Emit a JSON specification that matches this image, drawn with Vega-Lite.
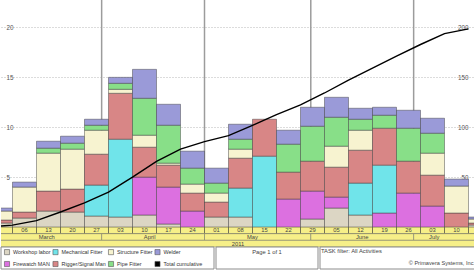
{
  "$schema": "https://vega.github.io/schema/vega-lite/v6.json",
  "padding": 0,
  "spacing": 0,
  "bounds": "flush",
  "background": "white",
  "config": {
    "view": {"stroke": null},
    "font": "Liberation Sans",
    "concat": {"spacing": 0}
  },
  "datasets": {
    "weekly": [
      {"start": "2011-02-27", "end": "2011-03-06", "Workshop labor": 0.4, "Firewatch MAN": 0, "Mechanical Fitter": 0, "Rigger/Signal Man": 0.3, "Structure Fitter": 0.9, "Pipe Fitter": 0, "Welder": 0.3},
      {"start": "2011-03-06", "end": "2011-03-13", "Workshop labor": 0.9, "Firewatch MAN": 0, "Mechanical Fitter": 0, "Rigger/Signal Man": 0.6, "Structure Fitter": 2.5, "Pipe Fitter": 0, "Welder": 0.5},
      {"start": "2011-03-13", "end": "2011-03-20", "Workshop labor": 1.6, "Firewatch MAN": 0, "Mechanical Fitter": 0, "Rigger/Signal Man": 2.0, "Structure Fitter": 3.8, "Pipe Fitter": 0.5, "Welder": 0.7},
      {"start": "2011-03-20", "end": "2011-03-27", "Workshop labor": 1.5, "Firewatch MAN": 0, "Mechanical Fitter": 0, "Rigger/Signal Man": 2.3, "Structure Fitter": 4.0, "Pipe Fitter": 0.6, "Welder": 0.7},
      {"start": "2011-03-27", "end": "2011-04-03", "Workshop labor": 1.1, "Firewatch MAN": 0, "Mechanical Fitter": 3.1, "Rigger/Signal Man": 3.1, "Structure Fitter": 2.4, "Pipe Fitter": 0.5, "Welder": 0.6},
      {"start": "2011-04-03", "end": "2011-04-10", "Workshop labor": 1.0, "Firewatch MAN": 0, "Mechanical Fitter": 7.8, "Rigger/Signal Man": 4.6, "Structure Fitter": 0.4, "Pipe Fitter": 0.6, "Welder": 0.6},
      {"start": "2011-04-10", "end": "2011-04-17", "Workshop labor": 1.2, "Firewatch MAN": 3.8, "Mechanical Fitter": 0, "Rigger/Signal Man": 3.0, "Structure Fitter": 1.2, "Pipe Fitter": 3.7, "Welder": 2.9},
      {"start": "2011-04-17", "end": "2011-04-24", "Workshop labor": 0.3, "Firewatch MAN": 3.7, "Mechanical Fitter": 0, "Rigger/Signal Man": 2.2, "Structure Fitter": 0.2, "Pipe Fitter": 3.8, "Welder": 2.1},
      {"start": "2011-04-24", "end": "2011-05-01", "Workshop labor": 0, "Firewatch MAN": 1.6, "Mechanical Fitter": 0, "Rigger/Signal Man": 1.8, "Structure Fitter": 0.9, "Pipe Fitter": 1.6, "Welder": 1.7},
      {"start": "2011-05-01", "end": "2011-05-08", "Workshop labor": 1.0, "Firewatch MAN": 0, "Mechanical Fitter": 0, "Rigger/Signal Man": 1.5, "Structure Fitter": 0.9, "Pipe Fitter": 1.0, "Welder": 1.5},
      {"start": "2011-05-08", "end": "2011-05-15", "Workshop labor": 1.0, "Firewatch MAN": 0, "Mechanical Fitter": 2.9, "Rigger/Signal Man": 3.0, "Structure Fitter": 0.9, "Pipe Fitter": 1.0, "Welder": 1.5},
      {"start": "2011-05-15", "end": "2011-05-22", "Workshop labor": 0, "Firewatch MAN": 0, "Mechanical Fitter": 7.1, "Rigger/Signal Man": 3.7, "Structure Fitter": 0, "Pipe Fitter": 0, "Welder": 0},
      {"start": "2011-05-22", "end": "2011-05-29", "Workshop labor": 0, "Firewatch MAN": 2.8, "Mechanical Fitter": 0, "Rigger/Signal Man": 2.7, "Structure Fitter": 0, "Pipe Fitter": 2.8, "Welder": 1.4},
      {"start": "2011-05-29", "end": "2011-06-05", "Workshop labor": 0.8, "Firewatch MAN": 2.8, "Mechanical Fitter": 0, "Rigger/Signal Man": 3.0, "Structure Fitter": 0, "Pipe Fitter": 3.5, "Welder": 1.9},
      {"start": "2011-06-05", "end": "2011-06-12", "Workshop labor": 1.9, "Firewatch MAN": 1.1, "Mechanical Fitter": 0, "Rigger/Signal Man": 3.0, "Structure Fitter": 2.1, "Pipe Fitter": 2.9, "Welder": 2.0},
      {"start": "2011-06-12", "end": "2011-06-19", "Workshop labor": 1.2, "Firewatch MAN": 0, "Mechanical Fitter": 3.2, "Rigger/Signal Man": 3.3, "Structure Fitter": 2.0, "Pipe Fitter": 1.1, "Welder": 1.1},
      {"start": "2011-06-19", "end": "2011-06-26", "Workshop labor": 0, "Firewatch MAN": 1.4, "Mechanical Fitter": 4.8, "Rigger/Signal Man": 3.7, "Structure Fitter": 0, "Pipe Fitter": 1.3, "Welder": 0.8},
      {"start": "2011-06-26", "end": "2011-07-03", "Workshop labor": 0, "Firewatch MAN": 3.4, "Mechanical Fitter": 0, "Rigger/Signal Man": 3.2, "Structure Fitter": 0, "Pipe Fitter": 3.3, "Welder": 1.8},
      {"start": "2011-07-03", "end": "2011-07-10", "Workshop labor": 0, "Firewatch MAN": 2.1, "Mechanical Fitter": 0, "Rigger/Signal Man": 3.1, "Structure Fitter": 2.2, "Pipe Fitter": 2.0, "Welder": 1.5},
      {"start": "2011-07-10", "end": "2011-07-17", "Workshop labor": 0, "Firewatch MAN": 0, "Mechanical Fitter": 0, "Rigger/Signal Man": 1.4, "Structure Fitter": 2.7, "Pipe Fitter": 0, "Welder": 0.7},
      {"start": "2011-07-17", "end": "2011-07-24", "Workshop labor": 0.2, "Firewatch MAN": 0, "Mechanical Fitter": 0, "Rigger/Signal Man": 0.2, "Structure Fitter": 0.4, "Pipe Fitter": 0, "Welder": 0.2}
    ],
    "cum": [
      {"date": "2011-02-27", "total": 0},
      {"date": "2011-03-06", "total": 1.9},
      {"date": "2011-03-13", "total": 6.4},
      {"date": "2011-03-20", "total": 15.0},
      {"date": "2011-03-27", "total": 24.1},
      {"date": "2011-04-03", "total": 34.9},
      {"date": "2011-04-10", "total": 49.9},
      {"date": "2011-04-17", "total": 65.7},
      {"date": "2011-04-24", "total": 78.0},
      {"date": "2011-05-01", "total": 85.6},
      {"date": "2011-05-08", "total": 91.5},
      {"date": "2011-05-15", "total": 101.8},
      {"date": "2011-05-22", "total": 112.6},
      {"date": "2011-05-29", "total": 122.3},
      {"date": "2011-06-05", "total": 134.3},
      {"date": "2011-06-12", "total": 147.3},
      {"date": "2011-06-19", "total": 159.2},
      {"date": "2011-06-26", "total": 171.2},
      {"date": "2011-07-03", "total": 182.9},
      {"date": "2011-07-10", "total": 193.8},
      {"date": "2011-07-17", "total": 198.6}
    ],
    "weeks": [
      {"start": "2011-02-27", "end": "2011-03-06", "label": ""},
      {"start": "2011-03-06", "end": "2011-03-13", "label": "06"},
      {"start": "2011-03-13", "end": "2011-03-20", "label": "13"},
      {"start": "2011-03-20", "end": "2011-03-27", "label": "20"},
      {"start": "2011-03-27", "end": "2011-04-03", "label": "27"},
      {"start": "2011-04-03", "end": "2011-04-10", "label": "03"},
      {"start": "2011-04-10", "end": "2011-04-17", "label": "10"},
      {"start": "2011-04-17", "end": "2011-04-24", "label": "17"},
      {"start": "2011-04-24", "end": "2011-05-01", "label": "24"},
      {"start": "2011-05-01", "end": "2011-05-08", "label": "01"},
      {"start": "2011-05-08", "end": "2011-05-15", "label": "08"},
      {"start": "2011-05-15", "end": "2011-05-22", "label": "15"},
      {"start": "2011-05-22", "end": "2011-05-29", "label": "22"},
      {"start": "2011-05-29", "end": "2011-06-05", "label": "29"},
      {"start": "2011-06-05", "end": "2011-06-12", "label": "05"},
      {"start": "2011-06-12", "end": "2011-06-19", "label": "12"},
      {"start": "2011-06-19", "end": "2011-06-26", "label": "19"},
      {"start": "2011-06-26", "end": "2011-07-03", "label": "26"},
      {"start": "2011-07-03", "end": "2011-07-10", "label": "03"},
      {"start": "2011-07-10", "end": "2011-07-17", "label": "10"},
      {"start": "2011-07-17", "end": "2011-07-24", "label": "17"}
    ],
    "months": [
      {"start": "2011-03-01", "end": "2011-04-01", "label": "March", "mid": "2011-03-16"},
      {"start": "2011-04-01", "end": "2011-05-01", "label": "April", "mid": "2011-04-15"},
      {"start": "2011-05-01", "end": "2011-06-01", "label": "May", "mid": "2011-05-15"},
      {"start": "2011-06-01", "end": "2011-07-01", "label": "June", "mid": "2011-06-16"},
      {"start": "2011-07-01", "end": "2011-08-01", "label": "July", "mid": "2011-07-07"}
    ]
  },
  "vconcat": [
    {
      "width": 474,
      "height": 227,
      "layer": [
        {
          "data": {"name": "months"},
          "mark": {"type": "rule", "color": "#9c9c9c", "strokeWidth": 1.5, "clip": true},
          "encoding": {
            "x": {"field": "start", "type": "temporal", "axis": null,
              "scale": {"type": "utc", "domain": [{"year": 2011, "month": 3, "date": 2, "hours": 15, "minutes": 30, "utc": true}, {"year": 2011, "month": 7, "date": 18, "hours": 21, "minutes": 30, "utc": true}]}}
          }
        },
        {
          "data": {"name": "weekly"},
          "transform": [
            {"fold": ["Workshop labor", "Firewatch MAN", "Mechanical Fitter", "Rigger/Signal Man", "Structure Fitter", "Pipe Fitter", "Welder"], "as": ["trade", "hours"]},
            {"filter": "datum.hours > 0"},
            {"stack": "hours", "groupby": ["start"], "as": ["y0", "y1"]}
          ],
          "mark": {"type": "rect", "stroke": "#3a3a3a", "strokeWidth": 0.6, "strokeOpacity": 0.75, "clip": true},
          "encoding": {
            "x": {"field": "start", "type": "temporal", "axis": null,
              "scale": {"type": "utc", "domain": [{"year": 2011, "month": 3, "date": 2, "hours": 15, "minutes": 30, "utc": true}, {"year": 2011, "month": 7, "date": 18, "hours": 21, "minutes": 30, "utc": true}]}},
            "x2": {"field": "end"},
            "y": {"field": "y0", "type": "quantitative", "scale": {"domain": [0, 22.75], "nice": false},
              "axis": {"orient": "left", "values": [5, 10, 15, 20], "grid": true, "gridDash": [1, 2], "gridColor": "#b8b8b8", "gridWidth": 1,
                "domain": false, "ticks": false, "tickSize": 0, "labelAlign": "left", "labelPadding": -5,
                "labelFontSize": 6.3, "labelColor": "#555555", "title": null}},
            "y2": {"field": "y1"},
            "color": {"field": "trade", "type": "nominal",
              "scale": {
                "domain": ["Workshop labor", "Mechanical Fitter", "Structure Fitter", "Welder", "Firewatch MAN", "Rigger/Signal Man", "Pipe Fitter", "Total cumulative"],
                "range": ["#dcd6c4", "#70e4ea", "#f7f3d0", "#9a9ad8", "#dc70e0", "#d88686", "#88df88", "#000000"]
              },
              "legend": {"title": null, "orient": "none", "legendX": 3, "legendY": 249, "columns": 4, "direction": "horizontal",
                "symbolType": "square", "symbolSize": 26, "symbolStrokeColor": "#555555", "symbolStrokeWidth": 0.6,
                "labelFontSize": 5.4, "labelColor": "#333333", "labelOffset": 3, "columnPadding": 0.5, "rowPadding": 4, "padding": 0}
            }
          }
        },
        {
          "data": {"name": "cum"},
          "mark": {"type": "line", "color": "#000000", "strokeWidth": 1.4, "clip": true},
          "encoding": {
            "x": {"field": "date", "type": "temporal", "axis": null,
              "scale": {"type": "utc", "domain": [{"year": 2011, "month": 3, "date": 2, "hours": 15, "minutes": 30, "utc": true}, {"year": 2011, "month": 7, "date": 18, "hours": 21, "minutes": 30, "utc": true}]}},
            "y": {"field": "total", "type": "quantitative", "scale": {"domain": [0, 227.5], "nice": false},
              "axis": {"orient": "right", "values": [50, 100, 150, 200], "grid": false, "domain": false, "ticks": false, "tickSize": 0,
                "labelAlign": "right", "labelPadding": -7, "labelFontSize": 6.3, "labelColor": "#555555", "title": null}}
          }
        }
      ],
      "resolve": {"scale": {"y": "independent"}}
    },
    {
      "width": 474,
      "height": 20,
      "layer": [
        {
          "data": {"name": "weeks"},
          "mark": {"type": "rect", "fill": "#f6ef88", "stroke": "#555544", "strokeWidth": 0.7, "clip": true},
          "encoding": {
            "x": {"field": "start", "type": "temporal", "axis": null,
              "scale": {"type": "utc", "domain": [{"year": 2011, "month": 3, "date": 2, "hours": 15, "minutes": 30, "utc": true}, {"year": 2011, "month": 7, "date": 18, "hours": 21, "minutes": 30, "utc": true}]}},
            "x2": {"field": "end"},
            "y": {"datum": "week", "type": "nominal", "axis": null, "scale": {"domain": ["week", "month", "year"], "paddingInner": 0, "paddingOuter": 0}}
          }
        },
        {
          "data": {"name": "weeks"},
          "mark": {"type": "text", "fontSize": 5.8, "color": "#444444", "dx": 12, "align": "center", "baseline": "middle", "clip": true},
          "encoding": {
            "x": {"field": "start", "type": "temporal", "axis": null},
            "y": {"datum": "week", "type": "nominal", "axis": null},
            "text": {"field": "label"}
          }
        },
        {
          "data": {"name": "months"},
          "mark": {"type": "rect", "fill": "#f6ef88", "stroke": "#8a8a70", "strokeWidth": 0.7, "clip": true},
          "encoding": {
            "x": {"field": "start", "type": "temporal", "axis": null},
            "x2": {"field": "end"},
            "y": {"datum": "month", "type": "nominal", "axis": null}
          }
        },
        {
          "data": {"name": "months"},
          "mark": {"type": "text", "fontSize": 5.8, "color": "#444444", "align": "center", "baseline": "middle", "clip": true},
          "encoding": {
            "x": {"field": "mid", "type": "temporal", "axis": null},
            "y": {"datum": "month", "type": "nominal", "axis": null},
            "text": {"field": "label"}
          }
        },
        {
          "data": {"values": [{"start": "2011-01-01", "end": "2012-01-01", "label": "2011"}]},
          "mark": {"type": "rect", "fill": "#f6ef88", "stroke": "#8a8a70", "strokeWidth": 0.7, "clip": true},
          "encoding": {
            "x": {"field": "start", "type": "temporal", "axis": null},
            "x2": {"field": "end"},
            "y": {"datum": "year", "type": "nominal", "axis": null}
          }
        },
        {
          "data": {"values": [{"label": "2011"}]},
          "mark": {"type": "text", "fontSize": 5.8, "color": "#444444", "align": "center", "baseline": "middle"},
          "encoding": {
            "y": {"datum": "year", "type": "nominal", "axis": null},
            "text": {"field": "label"}
          }
        }
      ]
    },
    {
      "spacing": 0,
      "hconcat": [
        {
          "width": 213,
          "height": 22,
          "data": {"values": [{}]},
          "mark": {"type": "rect", "fill": "white", "stroke": "#8c8c8c", "strokeWidth": 1},
          "encoding": {}
        },
        {
          "width": 102,
          "height": 22,
          "data": {"values": [{"t": "Page 1 of 1"}]},
          "layer": [
            {"mark": {"type": "rect", "fill": "white", "stroke": "#8c8c8c", "strokeWidth": 1}, "encoding": {}},
            {
              "mark": {"type": "text", "fontSize": 5.8, "color": "#444444", "align": "center", "baseline": "top", "dy": 1.5},
              "encoding": {
                "y": {"datum": 1, "type": "quantitative", "scale": {"domain": [0, 1]}, "axis": null},
                "text": {"field": "t"}
              }
            }
          ]
        },
        {
          "width": 159,
          "height": 22,
          "data": {"values": [{"t1": "TASK filter: All Activities", "t2": "© Primavera Systems, Inc."}]},
          "layer": [
            {"mark": {"type": "rect", "fill": "white", "stroke": "#8c8c8c", "strokeWidth": 1}, "encoding": {}},
            {
              "mark": {"type": "text", "fontSize": 5.8, "color": "#444444", "align": "left", "baseline": "top", "dx": 1, "dy": 0.5},
              "encoding": {
                "x": {"datum": 0, "type": "quantitative", "scale": {"domain": [0, 1]}, "axis": null},
                "y": {"datum": 1, "type": "quantitative", "scale": {"domain": [0, 1]}, "axis": null},
                "text": {"field": "t1"}
              }
            },
            {
              "mark": {"type": "text", "fontSize": 5.6, "color": "#444444", "align": "right", "baseline": "bottom", "dx": -4, "dy": -3},
              "encoding": {
                "x": {"datum": 1, "type": "quantitative", "scale": {"domain": [0, 1]}, "axis": null},
                "y": {"datum": 0, "type": "quantitative", "scale": {"domain": [0, 1]}, "axis": null},
                "text": {"field": "t2"}
              }
            }
          ]
        }
      ]
    }
  ]
}
